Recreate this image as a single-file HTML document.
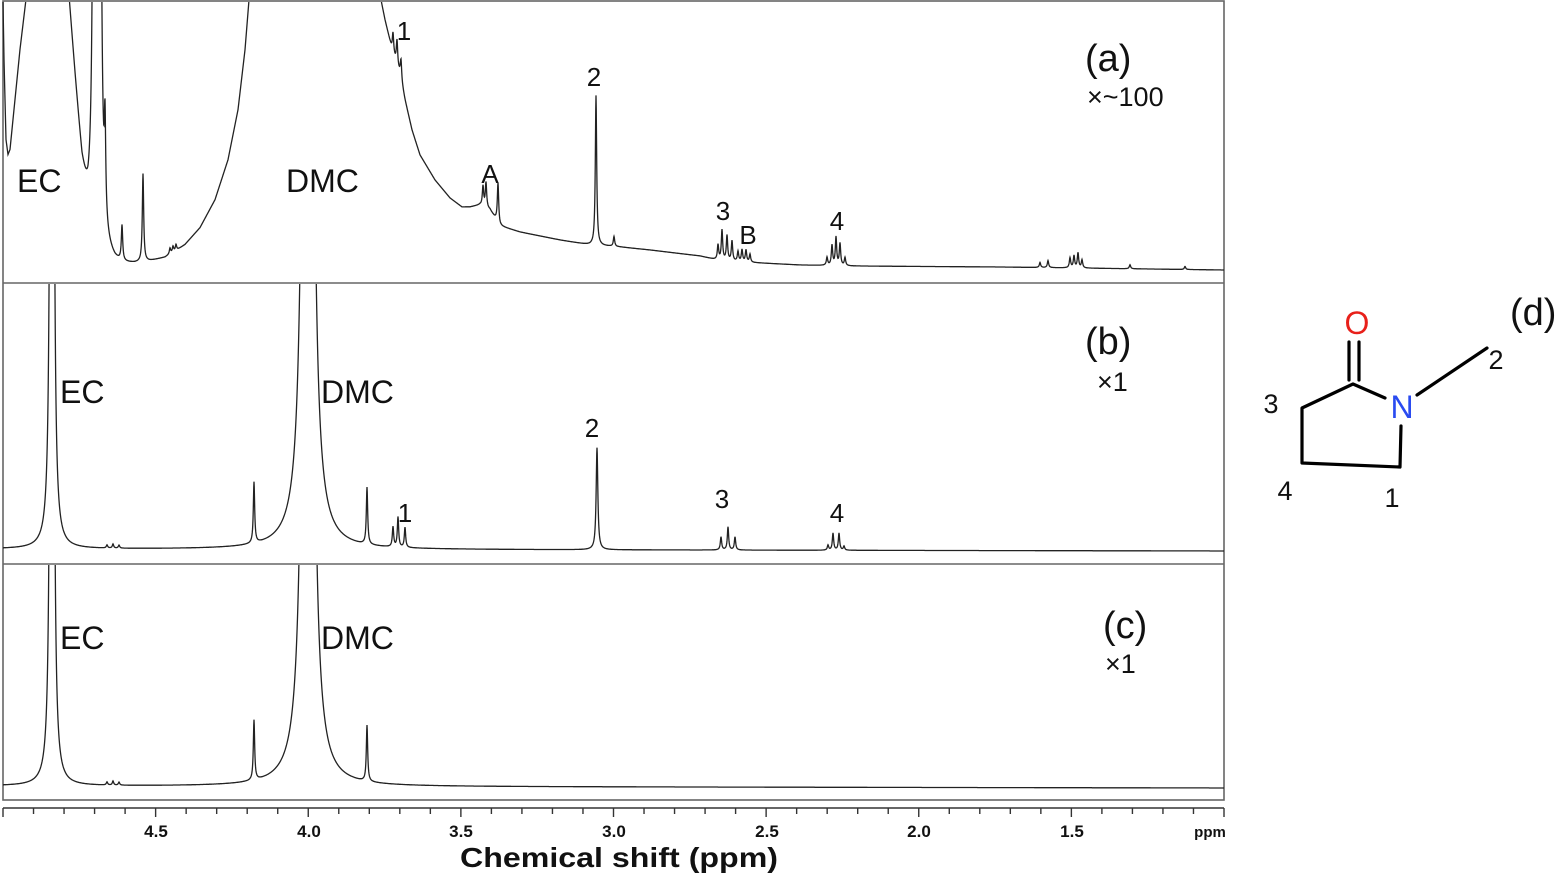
<!DOCTYPE html>
<html><head><meta charset="utf-8"><style>
html,body{margin:0;padding:0;background:#fff;}
svg{display:block;}
text{font-family:"Liberation Sans",sans-serif;fill:#111;}
</style></head><body>
<svg id="s" width="1565" height="874" viewBox="0 0 1565 874" xmlns="http://www.w3.org/2000/svg">
<g fill="none" stroke="#666" stroke-width="1.6">
<rect x="3" y="1" width="1221" height="799"/>
<line x1="3" y1="283" x2="1224" y2="283"/>
<line x1="3" y1="564" x2="1224" y2="564"/>
</g>
<path id="pa" fill="none" stroke="#222" stroke-width="1.3"/>
<path id="pb" fill="none" stroke="#222" stroke-width="1.3"/>
<path id="pc" fill="none" stroke="#222" stroke-width="1.3"/>
<g id="ticks" stroke="#333" stroke-width="1.4"><line x1="3" y1="808" x2="1224" y2="808"/></g>
<g font-family="Liberation Sans Narrow, Liberation Sans, sans-serif" font-weight="bold" font-size="17" text-anchor="middle">
<text x="156" y="837">4.5</text><text x="309" y="837">4.0</text><text x="461" y="837">3.5</text>
<text x="614" y="837">3.0</text><text x="767" y="837">2.5</text><text x="919" y="837">2.0</text>
<text x="1072" y="837">1.5</text><text x="1210" y="837" font-size="15">ppm</text>
</g>
<text x="460" y="867" font-weight="bold" font-size="28" textLength="318" lengthAdjust="spacingAndGlyphs">Chemical shift (ppm)</text>
<g font-size="32">
<text x="17" y="192">EC</text><text x="286" y="192">DMC</text>
<text x="60" y="403">EC</text><text x="321" y="403">DMC</text>
<text x="60" y="649">EC</text><text x="321" y="649">DMC</text>
</g>
<g font-size="26" text-anchor="middle">
<text x="404" y="40">1</text><text x="594" y="86">2</text><text x="490" y="183">A</text>
<text x="723" y="220">3</text><text x="748" y="244">B</text><text x="837" y="230">4</text>
<text x="592" y="437">2</text><text x="405" y="522">1</text><text x="722" y="508">3</text><text x="837" y="522">4</text>
</g>
<g font-size="38">
<text x="1085" y="71">(a)</text><text x="1085" y="354">(b)</text><text x="1103" y="638">(c)</text>
<text x="1510" y="325">(d)</text>
</g>
<g font-size="27">
<text x="1087" y="106">×~100</text><text x="1097" y="391">×1</text><text x="1105" y="673">×1</text>
</g>
<g stroke="#000" stroke-width="3.2" fill="none" stroke-linecap="round" stroke-linejoin="round">
<line x1="1349" y1="342" x2="1349" y2="380"/><line x1="1359" y1="342" x2="1359" y2="380"/>
<polyline points="1385,398 1353,384 1302,408 1302,463 1400,467 1401,426"/>
<line x1="1417" y1="395" x2="1487" y2="348"/>
</g>
<text x="1357" y="334" font-size="32" text-anchor="middle" style="fill:#e8201a">O</text>
<text x="1402" y="418" font-size="32" text-anchor="middle" style="fill:#2a4bf0">N</text>
<g font-size="27" text-anchor="middle">
<text x="1496" y="369">2</text><text x="1271" y="413">3</text><text x="1285" y="500">4</text><text x="1392" y="507">1</text>
</g>
</svg>
<script>
function interp(c,x){for(var i=0;i<c.length-1;i++){if(x<=c[i+1][0]){var t=(x-c[i][0])/(c[i+1][0]-c[i][0]);return c[i][1]+t*(c[i+1][1]-c[i][1]);}}return c[c.length-1][1];}
function f(ctrl,peaks,x){var y=interp(ctrl,x);for(var k=0;k<peaks.length;k++){var p=peaks[k];var w=p[2]||0.8;var dx=x-p[0];y-=p[1]*w*w/(dx*dx+w*w);}return y;}
function cross(ctrl,peaks,top,a,b){for(var i=0;i<30;i++){var m=(a+b)/2;var ya=f(ctrl,peaks,a)<top,ym=f(ctrl,peaks,m)<top;if(ya===ym)a=m;else b=m;}return (a+b)/2;}
function build(id,ctrl,peaks,top){var d="";var pen=false;var px=3;for(var x=3;x<=1224;x+=0.25){var y=f(ctrl,peaks,x);
if(y<top){if(pen){var cx=cross(ctrl,peaks,top,px,x);d+="L"+cx.toFixed(2)+" "+top;pen=false;}px=x;continue;}
if(!pen&&x>3){var cx2=cross(ctrl,peaks,top,px,x);d+="M"+cx2.toFixed(2)+" "+top+"L"+x.toFixed(2)+" "+y.toFixed(1);}
else d+=(pen?"L":"M")+x.toFixed(2)+" "+y.toFixed(1);pen=true;px=x;}document.getElementById(id).setAttribute("d",d);}
var ca=[[3,2],[4,60],[6,140],[8,155],[10,150],[14,110],[20,50],[26,0],[69,0],[75,80],[82,170],[88,220],[93,243],[100,255],[108,263],[115,266],[125,266],[135,265],[150,262],[165,258],[175,252],[185,245],[200,228],[215,200],[228,160],[238,110],[245,50],[249,0],[381,0],[385,20],[392,50],[400,75],[405,100],[412,130],[420,155],[435,180],[450,198],[462,207],[470,207],[480,205],[490,210],[500,226],[520,232],[560,240],[590,245],[620,247],[650,250],[700,256],[717,260],[740,262],[760,263],[800,265],[850,266],[1000,267],[1224,270]];
var pa=[[95,3000],[99,3000],[105,90],[122,35],[143,88],[170,6],[173,6],[176,6],[393,20],[397,25],[401,20],[483,20],[486,25],[498,40],[596,150],[614,10],[718,15],[722,30],[727,25],[732,20],[738,10],[742,12],[746,12],[750,8],[827,8],[832,20],[836,28],[840,22],[845,8],[1040,5],[1048,7],[1070,10],[1074,12],[1078,15],[1082,8],[1130,4],[1185,3]];
build("pa",ca,pa,2);
var pb=[[52,6667,0.6],[308,4825,2],[254,61,0.8],[367,57,0.8],[107,3],[113,4],[119,3],[393,20],[398,30],[405,20],[597,102,1],[721,13],[728,23],[735,13],[828,5],[833,17],[839,17],[844,4]];
build("pb",[[3,549],[1224,551]],pb,284);
build("pc",[[3,786],[1224,788]],[[52,6667,0.6],[308,4825,2],[254,60,0.8],[367,56,0.8],[107,3],[113,4],[119,3]],565);
var g=document.getElementById("ticks");
for(var i=0;i<=40;i++){var ppm=5-i*0.1;var x=3+(5-ppm)*305.25;var L=(i%5==0)?9:6;var l=document.createElementNS("http://www.w3.org/2000/svg","line");l.setAttribute("x1",x);l.setAttribute("x2",x);l.setAttribute("y1",808);l.setAttribute("y2",808+L);g.appendChild(l);}
</script>
</body></html>
